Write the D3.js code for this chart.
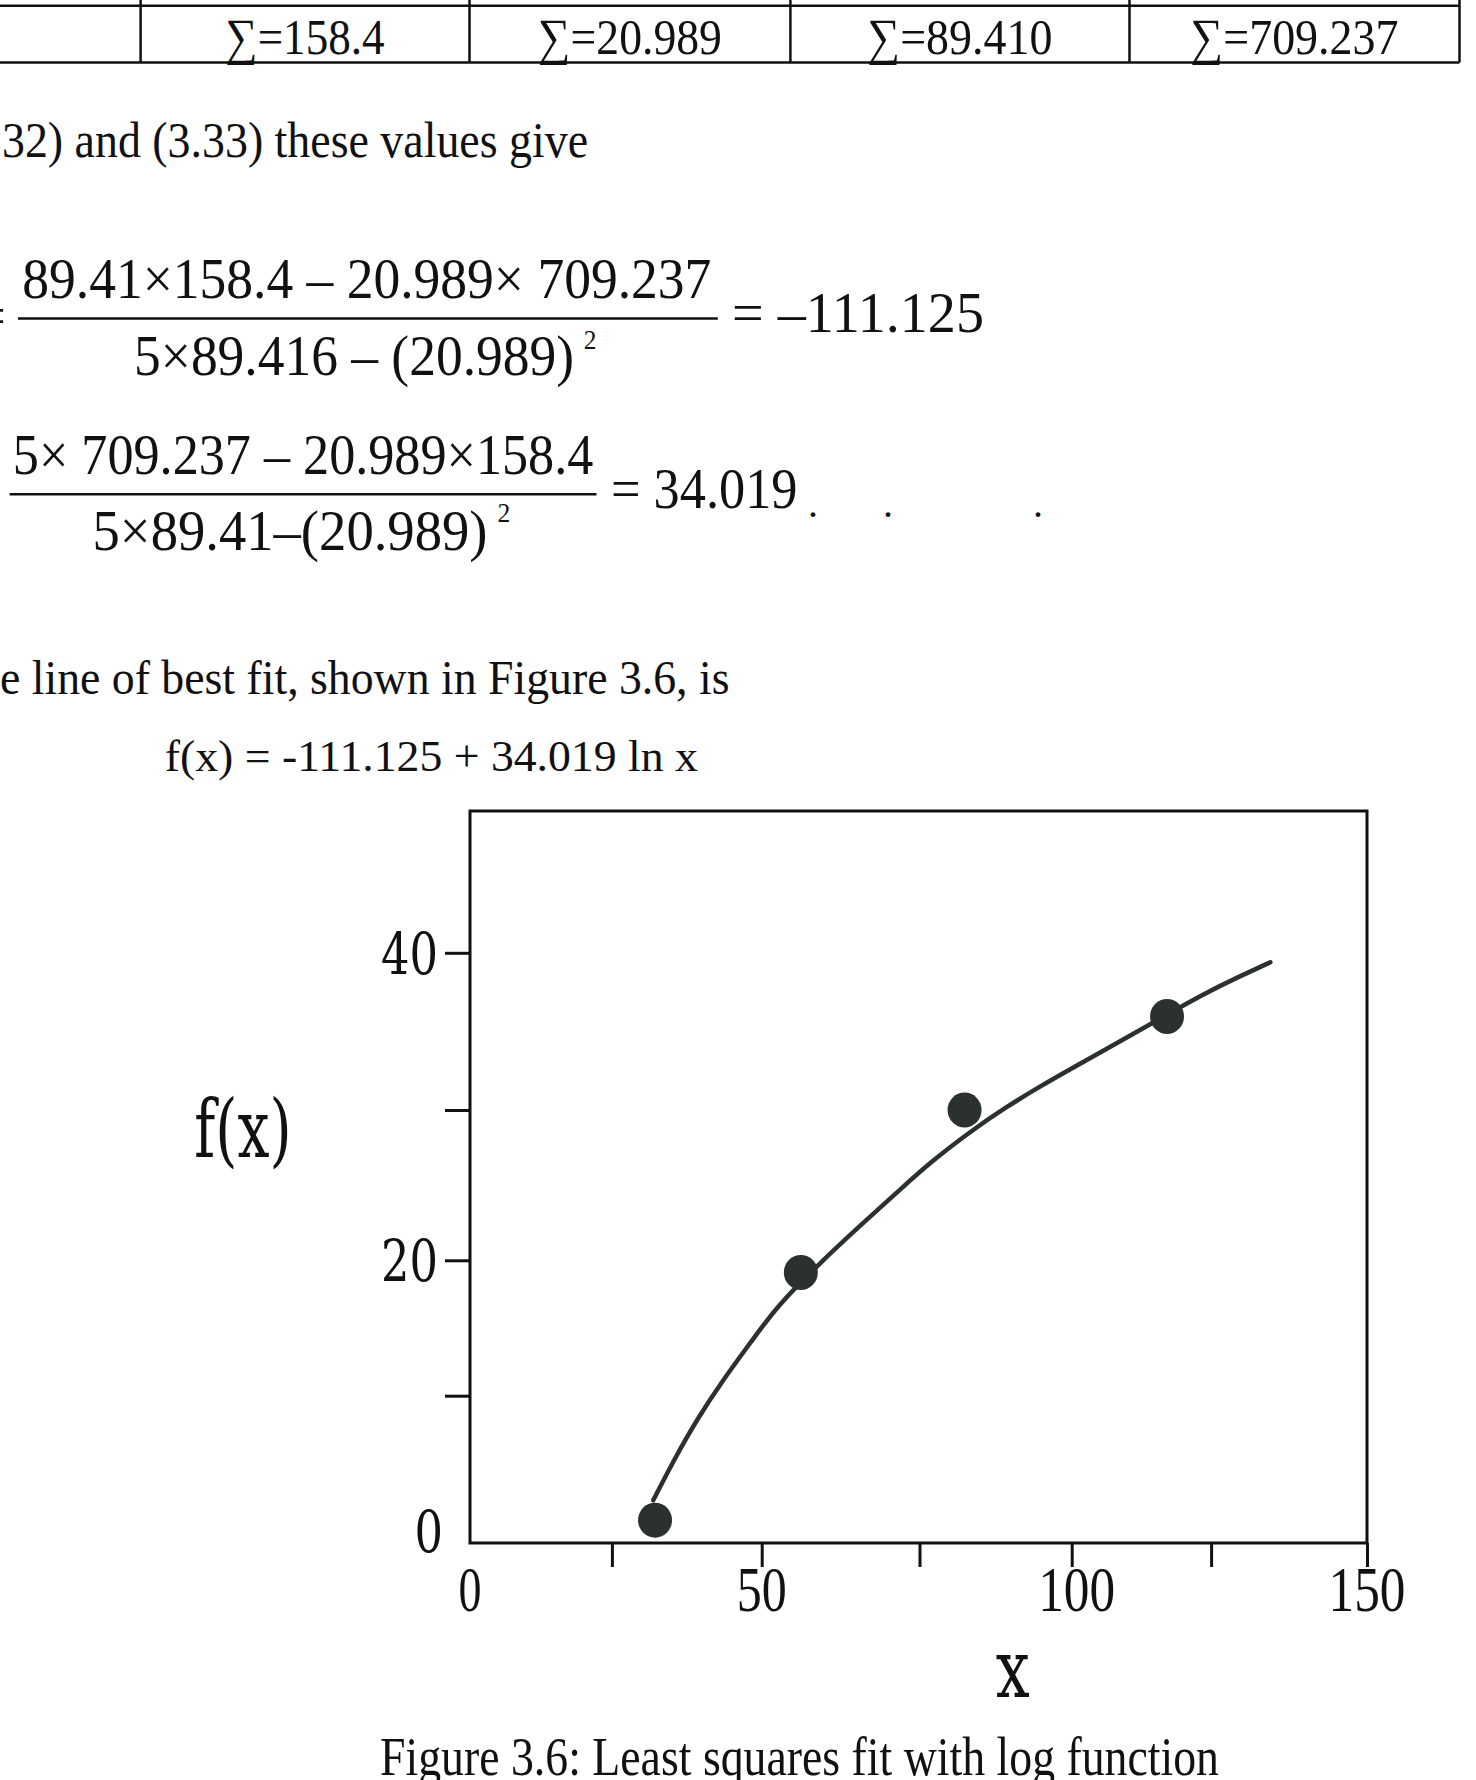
<!DOCTYPE html>
<html><head><meta charset="utf-8">
<script src="https://cdn.jsdelivr.net/npm/d3@7"></script>
<style>html,body{margin:0;padding:0;background:#fff;} svg{display:block;}</style>
</head><body>
<svg id="c" width="1476" height="1780"></svg>
<script>
// ---- data ----
const tableSums   = ["∑=158.4", "∑=20.989", "∑=89.410", "∑=709.237"];
const pointX      = [32.2, 56.2, 82.4, 117.1];
const pointY      = [1.55, 19.1, 30.0, 35.95];
const curveX      = [31.9, 35.3, 39.2, 43.6, 48.1, 52.4, 59.2, 66.1, 71.4, 76.7, 83.8, 89.3, 94.8, 100.3, 106.3, 112.3, 124.2, 129.6, 134.5];
const curveY      = [2.9, 5.6, 8.4, 11.2, 13.9, 16.6, 19.8, 22.5, 24.5, 26.5, 28.7, 30.2, 31.5, 32.7, 33.9, 35.1, 37.5, 38.5, 39.4];
const xTicks      = [25, 50, 75, 100, 125, 150];
const xTickLabels = [0, 50, 100, 150];
const yTicks      = [10, 20, 30, 40];
const yTickLabels = [0, 20, 40];
const xMax        = 150;
const yMax        = 49.0;

// ---- layout ----
const svg = d3.select("#c");
const SERIF = "'Liberation Serif', 'Times New Roman', serif";
const DVS = "'DejaVu Serif', serif";
const ink = "#111";
const markInk = "#2b312e";

function txt(str, x, y, fs, opts = {}) {
  const t = svg.append("text")
    .attr("x", x).attr("y", y)
    .attr("font-family", opts.family || SERIF)
    .attr("font-size", fs)
    .attr("fill", opts.fill || ink)
    .attr("text-anchor", opts.anchor || "start")
    .text(str);
  if (opts.len) t.attr("textLength", opts.len).attr("lengthAdjust", "spacingAndGlyphs");
  return t;
}
function hline(x1, x2, yv, w) {
  svg.append("line").attr("x1", x1).attr("x2", x2).attr("y1", yv).attr("y2", yv)
    .attr("stroke", ink).attr("stroke-width", w);
}

// ---- table row ----
const colEdges = [140.6, 469.5, 790.4, 1129.5, 1459.5];
hline(0, 1459.5, 5.7, 2.5);
hline(0, 1459.5, 62.4, 2.5);
colEdges.forEach(cx => svg.append("line").attr("x1", cx).attr("x2", cx).attr("y1", 0).attr("y2", 62.4)
  .attr("stroke", ink).attr("stroke-width", 2.5));
const sumLens = [159, 184, 185, 208];
tableSums.forEach((s, i) => {
  const cx = (colEdges[i] + colEdges[i + 1]) / 2;
  txt(s, cx, 53.5, 51, { anchor: "middle", len: sumLens[i] });
});

// ---- text and equations ----
txt("32) and (3.33) these values give", 2, 157, 50, { len: 586 });

txt("=", 6, 335, 58, { anchor: "end" });
txt("89.41×158.4 – 20.989× 709.237", 22.3, 298.4, 58, { len: 689 });
hline(17.9, 717.8, 318.5, 2.5);
txt("5×89.416 – (20.989)", 134, 375.3, 58, { len: 440 });
txt("2", 583.8, 349, 27, { len: 12.7 });
txt("= –111.125", 732, 332.4, 58, { len: 252 });

txt("5× 709.237 – 20.989×158.4", 12.8, 474.4, 58, { len: 580.5 });
hline(9.6, 596.5, 494.2, 2.5);
txt("5×89.41–(20.989)", 92.5, 549.7, 58, { len: 395 });
txt("2", 497.6, 522, 27, { len: 12.8 });
txt("= 34.019", 611, 507.5, 58, { len: 186.5 });
[808, 883, 1033].forEach(dx => txt(".", dx, 517, 40));

txt("e line of best fit, shown in Figure 3.6, is", 0, 694, 49, { len: 729.5 });
txt("f(x) = -111.125 + 34.019 ln x", 164.8, 771, 45, { len: 533 });

// ---- chart ----
// the printed axes are hand-drawn, so the scales follow the printed tick positions
const plot = { left: 470, right: 1367, top: 811, bottom: 1543 };
const x = d3.scaleLinear()
  .domain([0, ...xTicks])
  .range([plot.left, 611.9, 761.7, 919.5, 1071.7, 1211.1, plot.right]);
const y = d3.scaleLinear()
  .domain([0, ...yTicks, yMax])
  .range([plot.bottom, 1395.7, 1260.3, 1110, 952.8, plot.top]);

const gx = svg.append("g").attr("transform", `translate(0,${plot.bottom})`)
  .call(d3.axisBottom(x).tickValues(xTicks).tickSize(24).tickFormat(""));
gx.select(".domain").remove();
gx.selectAll(".tick line").attr("stroke", ink).attr("stroke-width", 3);

const gy = svg.append("g").attr("transform", `translate(${plot.left},0)`)
  .call(d3.axisLeft(y).tickValues(yTicks).tickSize(25).tickFormat(""));
gy.select(".domain").remove();
gy.selectAll(".tick line").attr("stroke", ink).attr("stroke-width", 3);

svg.append("rect")
  .attr("x", x(0)).attr("y", y(yMax))
  .attr("width", x(xMax) - x(0)).attr("height", y(0) - y(yMax))
  .attr("fill", "none").attr("stroke", ink).attr("stroke-width", 3);

// tick labels
svg.selectAll("text.xl").data(xTickLabels).enter().append("text")
  .attr("class", "xl")
  .attr("x", d => x(d) + (d === 100 ? 5 : 0)).attr("y", 1611)
  .attr("text-anchor", "middle")
  .attr("font-family", SERIF).attr("font-size", 64).attr("fill", ink)
  .attr("textLength", d => String(d).length * 27 - 4).attr("lengthAdjust", "spacingAndGlyphs")
  .text(d => d);

svg.selectAll("text.yl").data(yTickLabels).enter().append("text")
  .attr("class", "yl")
  .attr("x", d => d === 0 ? 443 : 438)
  .attr("y", d => y(d) + 21 + (d === 0 ? -12 : 0))
  .attr("text-anchor", "end")
  .attr("font-family", DVS).attr("font-size", 58).attr("fill", ink)
  .attr("textLength", d => String(d).length * 28.5).attr("lengthAdjust", "spacingAndGlyphs")
  .text(d => d);

// axis titles
txt("f(x)", 194.3, 1156.7, 80, { family: DVS, len: 97.4 });
txt("x", 995.7, 1697, 80, { family: DVS, len: 34 });

// fitted curve
const curveData = curveX.map((v, i) => [v, curveY[i]]);
svg.append("path")
  .datum(curveData)
  .attr("d", d3.line().x(d => x(d[0])).y(d => y(d[1])).curve(d3.curveBasis))
  .attr("fill", "none").attr("stroke", markInk).attr("stroke-width", 4.5)
  .attr("stroke-linecap", "round").attr("stroke-linejoin", "round");

// data points
const pts = pointX.map((v, i) => [v, pointY[i]]);
svg.selectAll("ellipse.pt").data(pts).enter().append("ellipse")
  .attr("class", "pt")
  .attr("cx", d => x(d[0])).attr("cy", d => y(d[1]))
  .attr("rx", 17).attr("ry", 17.5)
  .attr("fill", markInk);

// caption
txt("Figure 3.6: Least squares fit with log function", 380, 1775, 54, { len: 839 });
</script>
</body></html>
